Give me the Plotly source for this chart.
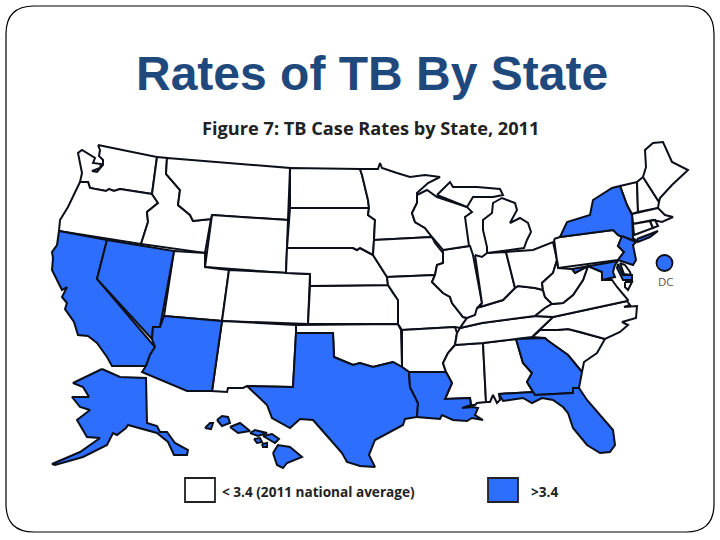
import plotly.graph_objects as go

# state outlines, in picture pixels (x, y)
WA = [(98,145),(157,157),(152,194),(140,192),(120,189),(114,191),(109,189),(106,191),(90,188),(88,182),(80,182),(82,173),(79,160),(78,153),(82,150),(87,153),(95,158),(93,163),(101,164),(100,168),(92,171),(97,172),(103,165),(103,160),(99,156),(100,150)]
OR = [(80,182),(88,182),(90,188),(106,191),(109,189),(114,191),(120,189),(152,194),(158,203),(147,212),(148,222),(141,244),(59,231),(60,220),(68,207)]
CA = [(59,231),(107,240),(97,279),(155,347),(150,355),(146,366),(112,366),(107,357),(97,343),(88,336),(78,335),(74,322),(65,309),(67,303),(62,297),(67,287),(62,290),(58,282),(52,270),(53,258),(52,252),(57,245)]
NV = [(107,240),(174,251),(162,316),(160,327),(153,327),(152,339),(97,279)]
ID = [(157,157),(167,158),(166,174),(180,190),(178,205),(190,215),(193,221),(211,219),(205,253),(141,244),(148,222),(147,212),(158,203),(152,194)]
MT = [(167,158),(290,168),(288,220),(212,215),(211,219),(193,221),(190,215),(178,205),(180,190),(166,174)]
WY = [(212,215),(288,220),(286,273),(205,267)]
UT = [(174,251),(205,253),(205,267),(229,270),(222,321),(164,316)]
CO = [(229,270),(286,273),(310,274),(308,324),(222,321)]
AZ = [(164,316),(222,321),(212,391),(187,391),(142,372),(146,366),(150,355),(155,347),(152,339),(153,327),(160,327)]
NM = [(222,321),(296,325),(296,333),(293,387),(247,386),(243,388),(228,388),(227,392),(212,391)]
TX = [(296,333),(333,333),(334,357),(353,365),(360,363),(373,367),(393,362),(402,367),(409,372),(410,387),(418,403),(417,417),(405,419),(403,425),(375,440),(369,455),(375,467),(360,466),(347,462),(342,453),(328,437),(313,420),(300,419),(290,428),(272,418),(267,405),(247,386),(293,387)]
OK = [(296,325),(398,324),(401,330),(402,367),(393,362),(373,367),(360,363),(353,365),(334,357),(333,333),(296,333)]
KS = [(310,286),(388,285),(393,293),(398,300),(398,324),(308,324)]
NE = [(287,248),(353,248),(357,250),(360,248),(373,255),(387,277),(388,285),(310,286),(310,274),(286,273)]
SD = [(290,208),(369,208),(368,215),(375,220),(374,240),(373,255),(360,248),(357,250),(353,248),(287,248)]
ND = [(290,168),(360,169),(362,175),(368,200),(369,208),(290,208)]
MN = [(360,169),(378,169),(380,163),(382,168),(397,173),(410,177),(425,175),(440,177),(428,183),(417,193),(417,203),(412,213),(415,222),(425,228),(432,237),(374,240),(375,220),(368,215),(369,208),(368,200),(362,175)]
IA = [(374,240),(432,237),(435,243),(443,253),(443,263),(437,265),(435,275),(387,277),(373,255)]
MO = [(387,277),(435,275),(432,282),(443,293),(450,297),(452,303),(463,317),(467,318),(460,328),(455,327),(402,330),(398,324),(398,300),(393,293),(388,285)]
AR = [(402,330),(455,327),(457,333),(455,345),(448,353),(443,363),(446,372),(409,372),(402,367)]
LA = [(409,372),(446,372),(452,383),(445,399),(470,398),(471,405),(462,408),(473,407),(478,408),(475,415),(483,420),(472,418),(467,421),(453,420),(442,415),(440,419),(417,417),(418,403),(410,387)]
MS = [(455,345),(483,343),(486,402),(477,403),(475,405),(471,405),(470,398),(445,399),(452,383),(446,372),(443,363),(448,353)]
AL = [(483,343),(516,339),(523,363),(532,373),(527,382),(533,392),(499,394),(500,400),(497,403),(493,395),(490,402),(486,402)]
GA = [(516,339),(545,338),(547,340),(568,355),(582,372),(579,388),(573,388),(573,393),(535,395),(533,392),(527,382),(532,373),(523,363)]
FL = [(499,394),(533,392),(535,395),(573,393),(573,388),(579,388),(587,400),(600,415),(613,430),(615,445),(610,452),(600,453),(587,445),(573,428),(568,413),(563,407),(553,400),(542,398),(532,403),(523,398),(503,401)]
SC = [(540,330),(557,330),(568,329),(580,332),(605,339),(597,353),(584,362),(582,372),(568,355),(547,340),(545,338),(532,337)]
NC = [(553,317),(627,301),(630,305),(624,307),(637,306),(636,318),(622,322),(628,325),(620,332),(605,339),(580,332),(568,329),(557,330),(540,330),(532,337)]
TN = [(460,328),(482,323),(535,316),(553,317),(532,337),(516,339),(483,343),(455,345),(457,333)]
KY = [(467,318),(477,308),(480,307),(493,303),(503,300),(515,288),(518,286),(535,288),(543,290),(545,297),(552,304),(545,308),(535,316),(482,323),(460,328)]
IL = [(443,250),(470,246),(473,255),(482,303),(477,308),(475,315),(467,318),(463,317),(452,303),(450,297),(443,293),(432,282),(435,275),(437,265),(443,263),(443,253)]
IN = [(475,255),(482,257),(487,253),(506,252),(515,288),(503,300),(493,303),(480,307),(482,303)]
OH = [(506,252),(533,250),(553,242),(557,260),(553,273),(542,283),(543,290),(535,288),(518,286),(515,288)]
WI = [(417,195),(427,190),(437,197),(467,207),(472,212),(465,217),(469,246),(443,250),(432,237),(425,228),(415,222),(412,213),(417,203)]
MI_UP = [(437,195),(450,182),(453,187),(477,187),(500,189),(503,195),(493,197),(473,197),(467,207)]
MI_LOW = [(487,253),(524,248),(527,240),(531,232),(528,223),(520,218),(510,223),(517,210),(515,203),(502,198),(493,203),(492,213),(483,220),(483,230),(487,247)]
PA = [(554,239),(560,237),(613,230),(618,235),(622,237),(618,246),(624,252),(618,260),(558,268),(557,260)]
NY = [(560,237),(567,222),(590,215),(593,200),(612,188),(620,186),(627,205),(632,215),(633,238),(637,241),(622,237),(618,235),(613,230)]
LI = [(637,239),(658,231),(650,237),(638,242)]
VT = [(620,186),(637,182),(638,212),(632,214),(627,205)]
NH = [(637,182),(643,177),(659,202),(658,208),(638,212)]
ME = [(643,177),(646,167),(645,150),(653,143),(663,142),(672,162),(688,170),(672,185),(660,198),(659,202)]
MA = [(632,214),(658,208),(665,215),(673,217),(662,222),(653,220),(633,224)]
CT = [(633,224),(650,221),(653,228),(634,235)]
RI = [(650,221),(655,220),(658,226),(653,228)]
NJ = [(622,236),(636,242),(633,245),(636,260),(633,265),(627,263),(618,260),(624,252),(618,246)]
MD = [(572,269),(618,261),(615,265),(613,272),(615,277),(602,280),(602,272),(588,266),(575,273)]
MD_EAST = [(618,264),(623,275),(632,275),(632,280),(623,280),(617,268)]
DE = [(620,263),(625,265),(630,272),(631,275),(624,274)]
VA = [(535,316),(545,308),(552,304),(563,303),(573,295),(583,280),(588,266),(602,272),(602,280),(612,280),(617,287),(628,300),(627,301),(553,317)]
VA_SHORE = [(625,282),(632,282),(628,290),(625,287)]
WV = [(557,260),(558,268),(572,269),(575,273),(588,266),(583,280),(573,295),(563,303),(552,304),(545,297),(543,290),(542,283),(553,273)]
AK = [(102,369),(120,377),(146,378),(147,423),(157,426),(160,432),(167,432),(175,443),(188,450),(187,455),(174,455),(168,442),(157,433),(128,425),(126,428),(117,435),(113,433),(107,445),(83,457),(55,465),(52,464),(80,452),(100,438),(87,437),(77,420),(90,410),(80,407),(72,397),(89,397),(83,387),(73,383)]
HI_1 = [(205,428),(210,423),(213,423),(211,429)]
HI_2 = [(217,420),(222,416),(228,417),(230,423),(222,426)]
HI_3 = [(230,427),(240,423),(250,431),(238,433)]
HI_4 = [(250,433),(255,430),(267,433),(258,436)]
HI_5 = [(263,436),(272,434),(279,439),(275,443)]
HI_6 = [(254,439),(260,438),(262,442),(257,443)]
HI_7 = [(262,444),(267,443),(267,447),(263,447)]
HI_8 = [(273,453),(278,445),(290,447),(302,457),(287,463),(283,468),(277,465)]

low_states = [WA, OR, ID, MT, WY, UT, CO, NM, OK, KS, NE, SD, ND, MN, IA, MO, AR, MS, AL, SC, NC, TN, KY,
              IL, IN, OH, WI, MI_UP, MI_LOW, PA, VT, NH, ME, MA, CT, RI, VA, VA_SHORE, WV]
high_states = [CA, NV, AZ, TX, LA, GA, FL, NY, LI, NJ, MD, MD_EAST, AK,
               HI_1, HI_2, HI_3, HI_4, HI_5, HI_6, HI_7, HI_8]
top_states = [DE]

title = "Rates of TB By State"
subtitle = "Figure 7: TB Case Rates by State, 2011"
legend_low = "< 3.4 (2011 national average)"
legend_high = ">3.4"

BLUE = "#2E6EFD"
INK = "#0B0F1A"

fig = go.Figure()


def add_state(points, colour):
    xs = [p[0] for p in points] + [points[0][0]]
    ys = [p[1] for p in points] + [points[0][1]]
    fig.add_trace(go.Scatter(x=xs, y=ys, mode="lines", fill="toself", fillcolor=colour,
                             line=dict(color=INK, width=2), hoverinfo="skip", showlegend=False))


for s in low_states:
    add_state(s, "white")
for s in high_states:
    add_state(s, BLUE)
for s in top_states:
    add_state(s, "white")

# DC dot
fig.add_trace(go.Scatter(x=[664.5], y=[263], mode="markers", hoverinfo="skip", showlegend=False,
                         marker=dict(size=16, color=BLUE, line=dict(color=INK, width=1.8))))

# slide frame
frame = ("M 34 6 L 686 6 Q 714 6 714 34 L 714 504 Q 714 532 686 532 "
         "L 34 532 Q 6 532 6 504 L 6 34 Q 6 6 34 6 Z")
fig.add_shape(type="path", path=frame, line=dict(color="black", width=1.2), layer="below")

# legend boxes
fig.add_shape(type="rect", x0=185, x1=215, y0=478, y1=502, fillcolor="white", line=dict(color="#222", width=1.8))
fig.add_shape(type="rect", x0=488, x1=518, y0=478, y1=502, fillcolor=BLUE, line=dict(color="#222", width=1.8))

fig.add_annotation(x=372, y=73, text="<b>%s</b>" % title, showarrow=False,
                   font=dict(family="Liberation Sans", size=48, color="#1F497D"))
fig.add_annotation(x=370, y=128, text="<b>%s</b>" % subtitle, showarrow=False,
                   font=dict(family="Open Sans", size=18.2, color="#222222"))
fig.add_annotation(x=220, y=491, text="<b>%s</b>" % legend_low, showarrow=False, xanchor="left",
                   font=dict(family="Open Sans", size=13.6, color="#222222"))
fig.add_annotation(x=529, y=491, text="<b>%s</b>" % legend_high, showarrow=False, xanchor="left",
                   font=dict(family="Open Sans", size=13.6, color="#222222"))
fig.add_annotation(x=666, y=281, text="DC", showarrow=False,
                   font=dict(family="Open Sans", size=11.5, color="#555555"))

fig.update_xaxes(range=[0, 720], visible=False, fixedrange=True)
fig.update_yaxes(range=[540, 0], visible=False, fixedrange=True)
fig.update_layout(width=720, height=540, margin=dict(l=0, r=0, t=0, b=0),
                  paper_bgcolor="white", plot_bgcolor="white")
fig.write_html("out.html", config=dict(displayModeBar=False),
               post_script="document.body.style.margin='0';")
